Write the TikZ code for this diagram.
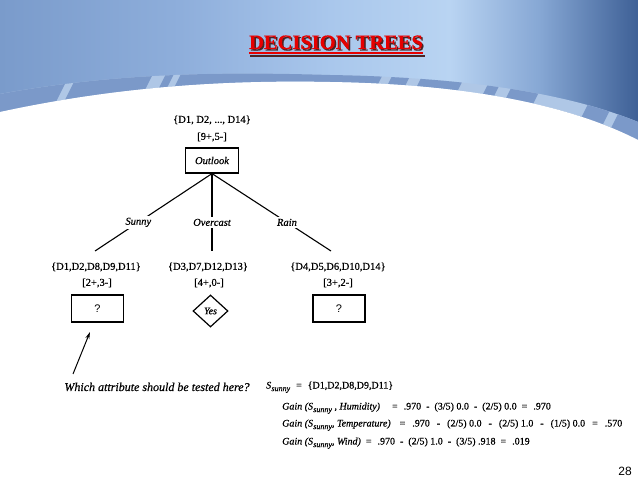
\documentclass[tikz,border=0pt]{standalone}
\usepackage{fontspec}
\setmainfont{Liberation Serif}[FakeBold=0.45]
\setsansfont{Liberation Sans}
\usetikzlibrary{shapes.geometric,arrows.meta}
\definecolor{hA}{HTML}{7A9BCB}
\definecolor{hB}{HTML}{8EAEDB}
\definecolor{hC}{HTML}{A9C7EC}
\definecolor{hD}{HTML}{B9D4F2}
\definecolor{hE}{HTML}{86A7D4}
\definecolor{hF}{HTML}{3E6096}
\definecolor{bandlight}{HTML}{AFC7E6}
\definecolor{banddark}{HTML}{7B99C9}
\definecolor{titlered}{HTML}{E60000}
\definecolor{titleshadow}{HTML}{4A2424}
\newcommand\Ssub{\textit{S}\kern0.3pt\raisebox{-2.6pt}{\fontsize{8}{8}\selectfont\itshape sunny}}
\newcommand\eqq{\hspace{5pt}=\hspace{6pt}}
\newcommand\mns{\hspace{5pt}-\hspace{5pt}}
\newcommand\wmns{\hspace{7pt}-\hspace{7pt}}
\begin{document}
\begin{tikzpicture}[x=1pt,y=-1pt,
  txt/.style={font=\fontsize{10.5}{12}\selectfont, inner sep=0pt},
  boxnode/.style={draw, line width=1.2pt, minimum width=52pt, minimum height=27pt, inner sep=0pt},
  edge/.style={line width=1.1pt},
  lbl/.style={font=\itshape\fontsize{10.5}{12}\selectfont, fill=white, inner sep=2pt},
  gain/.style={anchor=base west, inner sep=0pt, font=\fontsize{10}{12}\selectfont}]
\useasboundingbox (0,0) rectangle (638,478);
\fill[white] (0,0) rectangle (638,478);
% header gradient
\shade[left color=hA, right color=hB] (0,0) rectangle (180,150);
\shade[left color=hB, right color=hC] (180,0) rectangle (330,150);
\shade[left color=hC, right color=hD] (330,0) rectangle (450,150);
\shade[left color=hD, right color=hE] (450,0) rectangle (540,150);
\shade[left color=hE, right color=hF] (540,0) rectangle (638,150);
% stripe band
\fill[bandlight] (0,94) .. controls (120,72) and (230,72) .. (330,75) .. controls (450,77) and (560,90) .. (638,122)
  -- (638,140) .. controls (560,100) and (450,84) .. (330,82) .. controls (230,80) and (120,86) .. (0,112) -- cycle;
\begin{scope}
\clip (-35,150) -- (10,60) -- (52,60) -- (7,150) -- cycle
      (-7,150) -- (38,60) -- (77,60) -- (32,150) -- cycle
      (40,150) -- (85,60) -- (160,60) -- (115,150) -- cycle
      (128,150) -- (173,60) -- (181,60) -- (136,150) -- cycle
      (143,150) -- (188,60) -- (390,60) -- (345,150) -- cycle
      (355,150) -- (400,60) -- (418,60) -- (373,150) -- cycle
      (385,150) -- (430,60) -- (473,60) -- (428,150) -- cycle
      (455,150) -- (500,60) -- (512,60) -- (467,150) -- cycle
      (480,150) -- (525,60) -- (555,60) -- (510,150) -- cycle
      (565,150) -- (610,60) -- (635,60) -- (590,150) -- cycle
      (600,150) -- (645,60) -- (700,60) -- (655,150) -- cycle;
\fill[banddark] (0,94) .. controls (120,72) and (230,72) .. (330,75) .. controls (450,77) and (560,90) .. (638,122)
  -- (638,140) .. controls (560,100) and (450,84) .. (330,82) .. controls (230,80) and (120,86) .. (0,112) -- cycle;
\end{scope}
% white slide area
\fill[white] (0,112) .. controls (120,86) and (230,80) .. (330,82) .. controls (450,84) and (560,100) .. (638,140)
  -- (638,478) -- (0,478) -- cycle;
% title
\node[anchor=base, inner sep=0pt, text=titleshadow, font=\bfseries\fontsize{20.5}{22}\selectfont] (titlesh) at (337.5,50.5) {DECISION TREES};
\node[anchor=base, inner sep=0pt, text=titlered, font=\bfseries\fontsize{20.5}{22}\selectfont] (title) at (336,49) {DECISION TREES};
\draw[titleshadow, line width=1.5pt] ([yshift=-5.5pt]titlesh.base west) -- ([yshift=-5.5pt]titlesh.base east);
\draw[titlered, line width=1.5pt] ([yshift=-4pt]title.base west) -- ([yshift=-4pt]title.base east);
% tree
\node[txt] (root) at (212,120) {\{D1, D2, ..., D14\}};
\node[txt] (rootc) at (212,137) {[9+,5-]};
\node[boxnode, minimum width=53pt, minimum height=25pt, font=\itshape\fontsize{10.5}{12}\selectfont] (outlook) at (212,160.5) {Outlook};
\coordinate (e1) at (95,251);
\coordinate (e2) at (212,251);
\coordinate (e3) at (331,251);
\draw[edge] (outlook.south) -- node[lbl, pos=0.63] {Sunny} (e1);
\draw[edge] (outlook.south) -- node[lbl, pos=0.63] {Overcast} (e2);
\draw[edge] (outlook.south) -- node[lbl, pos=0.63] {Rain} (e3);
\node[txt] (s1) at (96,267) {\{D1,D2,D8,D9,D11\}};
\node[txt] (s1c) at (97,283) {[2+,3-]};
\node[boxnode, font=\sffamily\fontsize{11}{12}\selectfont] (q1) at (97.5,308.5) {?};
\node[txt] (s2) at (208,267) {\{D3,D7,D12,D13\}};
\node[txt] (s2c) at (209,283) {[4+,0-]};
\node[draw, diamond, line width=1.2pt, minimum width=35pt, minimum height=32pt, inner sep=0pt, font=\itshape\fontsize{10}{11}\selectfont] (yes) at (210.5,311) {Yes};
\node[txt] (s3) at (338,267) {\{D4,D5,D6,D10,D14\}};
\node[txt] (s3c) at (338,283) {[3+,2-]};
\node[boxnode, font=\sffamily\fontsize{11}{12}\selectfont] (q3) at (339,308.5) {?};
% pointer
\coordinate (ptail) at (73,374);
\coordinate (phead) at (90,332);
\draw[line width=1pt, -{Stealth[length=7pt,width=4pt]}] (ptail) -- (phead);
\node[anchor=base, inner sep=0pt, font=\itshape\fontsize{12}{14}\selectfont] (question) at (157,391) {Which attribute should be tested here?};
% gain computations
\node[gain] (ssunny) at (266,388.5) {\Ssub\hspace{6pt}=\hspace{6pt}\{D1,D2,D8,D9,D11\}};
\node[gain] (g1) at (282,409.5) {\textit{Gain (\Ssub\ , Humidity)}\hspace{12pt}=\hspace{6pt}.970\mns(3/5) 0.0\mns(2/5) 0.0\eqq.970};
\node[gain] (g2) at (282,426.5) {\textit{Gain (\Ssub, Temperature)}\hspace{9pt}=\hspace{7pt}.970\wmns(2/5) 0.0\wmns(2/5) 1.0\wmns(1/5) 0.0\hspace{7pt}=\hspace{7pt}.570};
\node[gain] (g3) at (282,444.5) {\textit{Gain (\Ssub, Wind)}\eqq.970\mns(2/5) 1.0\mns(3/5) .918\eqq.019};
\node[font=\sffamily\fontsize{12}{14}\selectfont, inner sep=0pt] (page) at (625,471) {28};
\end{tikzpicture}
\end{document}
